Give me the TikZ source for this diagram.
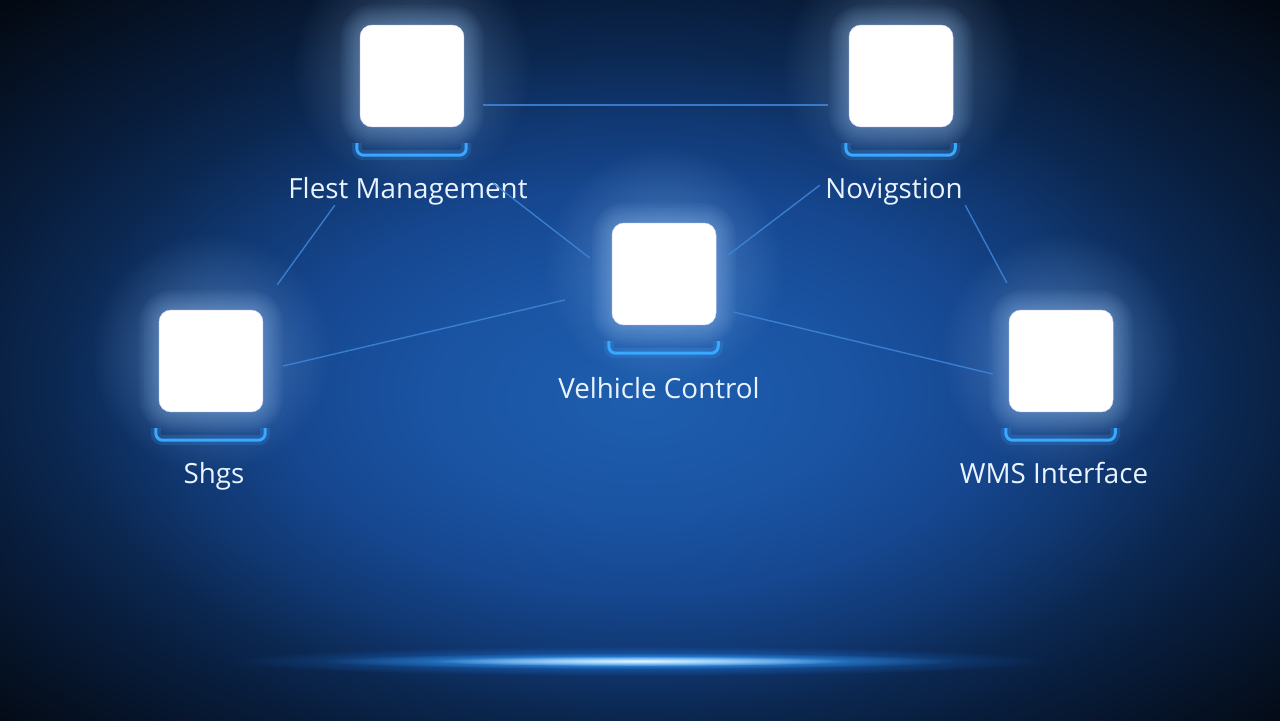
\documentclass[tikz,border=0pt]{standalone}
\usepackage{fontspec}
\setmainfont{Open Sans}
\usetikzlibrary{calc,fadings}
\definecolor{bgA}{HTML}{1E5EAE}
\definecolor{bgB}{HTML}{1A54A3}
\definecolor{bgC}{HTML}{164790}
\definecolor{bgD}{HTML}{103770}
\definecolor{bgE}{HTML}{0B2750}
\definecolor{bgF}{HTML}{081C3A}
\definecolor{bgG}{HTML}{030810}
\definecolor{glowc}{HTML}{A8D2FF}
\definecolor{barc}{HTML}{3AA8FF}
\definecolor{linkc}{HTML}{3F86DA}
\definecolor{txtc}{HTML}{EAF4FF}
\definecolor{beamA}{HTML}{1C6FD0}
\definecolor{beamB}{HTML}{3AA6FF}
\definecolor{beamC}{HTML}{E2F6FF}
\pgfdeclareradialshading{bgshade}{\pgfpoint{0bp}{-3bp}}{color(0bp)=(bgA); color(8bp)=(bgB); color(14bp)=(bgC); color(19bp)=(bgD); color(23bp)=(bgE); color(27bp)=(bgF); color(36bp)=(bgG); color(50bp)=(bgG)}
\tikzfading[name=softfade, inner color=transparent!0, outer color=transparent!100]
\tikzset{
  box/.style={fill=white, draw=white!85!blue, line width=0.01cm, rounded corners=0.24cm,
    minimum width=2.08cm, minimum height=2.04cm, inner sep=0pt},
  lbl/.style={text=txtc, font=\fontsize{15.8}{18}\selectfont, inner sep=0pt, anchor=base},
  link/.style={draw=linkc, line width=0.028cm, opacity=0.85},
  barline/.style={draw=barc, line width=0.06cm, rounded corners=0.14cm},
  barglow/.style={draw=barc, line width=0.2cm, rounded corners=0.14cm, opacity=0.18}
}
\newcommand\glowat[1]{%
  \fill[glowc, opacity=0.38, path fading=softfade] ($(#1)+(0,-8)$) ellipse [x radius=120, y radius=120];
  \foreach \i in {1,...,8}{%
    \pgfmathsetmacro\rr{0.26+0.05*\i}%
    \fill[glowc, opacity=0.045, rounded corners=\rr cm]
      ($(#1)+(-52-2.5*\i,-51-2.5*\i)$) rectangle ($(#1)+(52+2.5*\i,51+2.5*\i)$);
  }%
}
\newcommand\barunder[1]{%
  \draw[barglow] ($(#1.south west)+(-3,16)$) -- ($(#1.south west)+(-3,28)$) -- ($(#1.south east)+(2,28)$) -- ($(#1.south east)+(2,16)$);
  \draw[barline] ($(#1.south west)+(-3,16)$) -- ($(#1.south west)+(-3,28)$) -- ($(#1.south east)+(2,28)$) -- ($(#1.south east)+(2,16)$);
}
\begin{document}
\begin{tikzpicture}[x=0.02cm, y=-0.02cm]
  \useasboundingbox (0,0) rectangle (1280,720);
  \shade[shading=bgshade] (0,0) rectangle (1280,720);
  % bottom glow
  \fill[beamA, opacity=0.9, path fading=softfade] (640,661) ellipse [x radius=410, y radius=15];
  \fill[beamB, path fading=softfade] (640,661) ellipse [x radius=320, y radius=8];
  \fill[beamC, path fading=softfade] (640,661) ellipse [x radius=210, y radius=5];
  % centres
  \coordinate (fmc) at (412,76);
  \coordinate (navc) at (901,76);
  \coordinate (vcc) at (664,274);
  \coordinate (shc) at (211,361);
  \coordinate (wmsc) at (1061,361);
  \glowat{fmc}\glowat{navc}\glowat{vcc}\glowat{shc}\glowat{wmsc}
  % boxes
  \node[box] (fm) at (fmc) {};
  \node[box] (nav) at (navc) {};
  \node[box] (vc) at (vcc) {};
  \node[box] (sh) at (shc) {};
  \node[box] (wms) at (wmsc) {};
  % bars
  \barunder{fm}\barunder{nav}\barunder{vc}\barunder{sh}\barunder{wms}
  % labels
  \node[lbl] (fml) at (408,198) {Flest Management};
  \node[lbl] (navl) at (894,198) {Novigstion};
  \node[lbl] (vcl) at (659,398) {Velhicle Control};
  \node[lbl] (shl) at (214,483) {Shgs};
  \node[lbl] (wmsl) at (1054,483) {WMS Interface};
  % connectors
  \draw[link] ($(fm.east)+(19,29)$) -- ($(nav.west)+(-21,29)$);
  \draw[link] ($(fm.south east)+(29,56)$) -- ($(vc.west)+(-22,-16)$);
  \draw[link] ($(fm.south west)+(-25,78)$) -- ($(sh.north east)+(14,-25)$);
  \draw[link] ($(nav.south west)+(-29,58)$) -- ($(vc.east)+(12,-19)$);
  \draw[link] ($(nav.south east)+(12,78)$) -- ($(wms.north west)+(-2,-27)$);
  \draw[link] ($(vc.west)+(-47,26)$) -- ($(sh.east)+(20,5)$);
  \draw[link] ($(vc.east)+(17,38)$) -- ($(wms.west)+(-16,13)$);
\end{tikzpicture}
\end{document}
